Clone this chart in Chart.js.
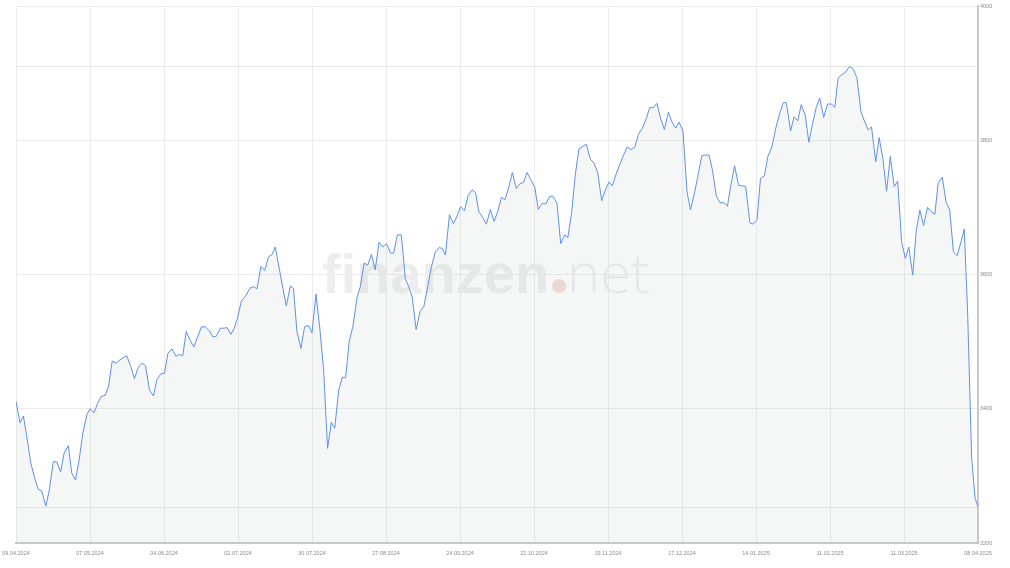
<!DOCTYPE html>
<html>
<head>
<meta charset="utf-8">
<script src="https://cdn.jsdelivr.net/npm/chart.js@4"></script>
<style>
  html, body { margin: 0; padding: 0; background: #ffffff; }
  #wrap { width: 1010px; height: 568px; }
</style>
</head>
<body>
<div id="wrap"><canvas id="chart" width="1010" height="568"></canvas></div>
<script>
// days after 09.04.2024
const days = [0,1.5,2.8,4.1,5.6,7.2,8.4,9.7,11.3,12.6,14.1,15.4,16.9,18.2,19.8,21.1,22.5,23.9,25.3,26.8,28.0,29.5,30.9,32.2,33.7,35.0,36.4,37.9,39.4,41.9,43.4,44.8,46.3,47.7,49.0,50.5,52.0,53.3,54.8,56.2,57.5,59.0,60.5,61.7,63.1,64.4,65.9,67.3,68.7,70.2,71.6,73.2,
  74.5,75.8,77.3,78.8,79.8,81.3,82.6,83.8,85.3,86.9,88.4,89.7,91.2,92.7,94.1,95.5,96.9,98.1,99.7,101.0,102.3,103.8,105.0,106.3,107.8,109.2,110.7,112.0,113.5,114.9,116.4,117.9,119.3,120.6,122.1,123.5,124.7,126.1,127.5,129.1,130.3,131.7,133.1,134.5,135.9,137.4,138.8,140.2,141.7,142.9,144.3,145.8,
  147.3,148.6,149.9,151.4,152.9,154.3,155.8,157.2,158.7,160.0,161.3,162.5,164.0,165.5,166.8,168.2,169.7,171.1,172.6,173.9,175.1,176.6,178.0,179.5,180.9,182.3,183.7,185.0,186.5,187.8,189.3,190.6,192.0,193.4,194.8,196.3,197.6,199.1,200.4,201.9,203.1,204.7,206.1,207.6,208.8,210.2,211.7,213.0,214.5,215.8,217.3,218.7,220.1,
  221.6,222.8,224.4,225.6,227.2,228.7,229.9,231.3,232.7,234.2,235.5,237.0,238.3,239.8,241.0,242.5,243.9,245.3,246.9,248.1,249.6,250.9,252.4,253.9,255.2,256.7,258.0,259.5,260.7,262.2,263.5,265.0,266.4,267.8,269.2,270.6,271.9,273.4,274.9,276.1,277.7,278.9,280.4,281.7,283.2,284.5,286.0,287.5,288.8,290.3,291.5,293.1,294.4,295.8,297.1,298.6,
  300.0,301.4,302.8,304.1,305.6,307.1,308.6,309.8,311.1,312.6,314.0,315.4,316.8,318.2,319.7,320.9,322.5,323.7,325.3,326.6,328.0,329.4,330.8,332.3,333.6,335.1,336.5,337.8,339.3,340.6,342.0,343.4,344.9,346.2,347.7,348.9,350.5,351.9,353.3,354.7,356.1,357.6,358.8,360.1,361.6,362.9,364];

const values = [3411,3379,3389,3358,3319,3295,3280,3278,3255,3279,3321,3321,3306,3334,3345,3304,3294,3324,3364,3391,3400,3394,3408,3418,3420,3433,3471,3468,3473,3479,3463,3445,3462,3468,3464,3428,3419,3443,3452,3453,3483,3489,3478,3481,3479,3515,3502,3492,3507,3522,3522,3516,
  3507,3508,3520,3520,3521,3511,3520,3535,3561,3568,3579,3582,3579,3612,3606,3626,3630,3641,3607,3579,3553,3583,3579,3515,3490,3522,3524,3513,3571,3522,3458,3341,3380,3371,3428,3447,3446,3501,3523,3567,3582,3617,3614,3630,3607,3648,3641,3646,3632,3632,3659,3659,
  3594,3582,3567,3518,3545,3552,3582,3612,3634,3640,3639,3629,3689,3676,3686,3701,3695,3718,3726,3722,3694,3685,3675,3697,3679,3694,3715,3711,3731,3752,3728,3735,3737,3752,3741,3730,3697,3706,3705,3716,3717,3706,3646,3659,3655,3691,3751,3787,3791,3794,3772,3766,3752,
  3710,3724,3738,3732,3751,3766,3778,3790,3786,3790,3809,3818,3830,3849,3848,3855,3833,3816,3842,3828,3818,3827,3813,3723,3696,3721,3746,3777,3778,3778,3756,3717,3707,3707,3702,3736,3762,3733,3732,3731,3677,3675,3682,3743,3747,3776,3790,3818,3838,3856,3856,3814,3835,3829,3853,3838,
  3797,3825,3849,3863,3834,3854,3854,3849,3893,3898,3902,3910,3906,3893,3843,3830,3815,3820,3768,3804,3773,3724,3776,3731,3739,3649,3624,3641,3599,3664,3696,3673,3700,3694,3690,3736,3745,3708,3696,3634,3628,3649,3668,3540,3326,3267,3254];

// x tick positions (days) and y ticks
const xTickDays = [0,28,56,84,112,140,168,196,224,252,280,308,336,364];
const yTicks = [3200,3400,3600,3800,4000];
const startDate = Date.UTC(2024, 3, 9);

function fmtDate(d) {
    const dt = new Date(startDate + Math.round(d) * 86400000);
    const dd = String(dt.getUTCDate()).padStart(2, '0');
    const mm = String(dt.getUTCMonth() + 1).padStart(2, '0');
    return dd + '.' + mm + '.' + dt.getUTCFullYear();
}

const points = days.map((d, i) => ({ x: d, y: values[i] }));

// watermark + max/min lines
const extras = {
    id: 'extras',
    beforeDatasetsDraw(chart) {
        const { ctx, chartArea, scales } = chart;
        ctx.save();
        // max / min lines
        ctx.strokeStyle = '#e6e6e6';
        ctx.lineWidth = 1;
        [Math.max(...values), Math.min(...values)].forEach(v => {
            const y = Math.round(scales.y.getPixelForValue(v)) + 0.5;
            ctx.beginPath();
            ctx.moveTo(chartArea.left, y);
            ctx.lineTo(chartArea.right, y);
            ctx.stroke();
        });
        // finanzen.net watermark
        ctx.textBaseline = 'alphabetic';
        ctx.font = 'bold 56px "Liberation Sans", Arial, sans-serif';
        let x = 322;
        const base = 293;
        ctx.fillStyle = '#ededed';
        ctx.fillText('finanzen', x, base);
        x += ctx.measureText('finanzen').width + 4;
        ctx.fillStyle = '#f6dada';
        ctx.beginPath();
        ctx.arc(x + 6, base - 7, 7, 0, Math.PI * 2);
        ctx.fill();
        x += 14;
        ctx.font = '300 56px "Open Sans", "Liberation Sans", sans-serif';
        ctx.fillStyle = '#ededed';
        ctx.fillText('net', x, base);
        ctx.restore();
    }
};

new Chart(document.getElementById('chart'), {
    type: 'line',
    data: {
        datasets: [{
            data: points,
            borderColor: '#5c8ff0',
            borderWidth: 1,
            backgroundColor: 'rgba(190, 205, 205, 0.16)',
            fill: 'start',
            pointRadius: 0,
            tension: 0
        }]
    },
    options: {
        responsive: false,
        animation: false,
        layout: { padding: { left: 16, top: 6, right: 0, bottom: 0 } },
        plugins: {
            legend: { display: false },
            tooltip: { enabled: false }
        },
        scales: {
            x: {
                type: 'linear',
                min: 0,
                max: 364,
                afterBuildTicks: axis => { axis.ticks = xTickDays.map(v => ({ value: v })); },
                afterFit: axis => {
                    axis.height = 25;
                    // labels may overhang the edges like in the original
                    axis.paddingLeft = 0;
                    axis.paddingRight = 0;
                },
                ticks: {
                    callback: v => fmtDate(v),
                    color: '#8a8a8a',
                    font: { family: 'Arial, "Liberation Sans"', size: 5.5 },
                    padding: 7,
                    maxRotation: 0,
                    autoSkip: false
                },
                grid: { color: '#ebebeb', drawTicks: false },
                border: { color: '#c8c8c8', width: 2 }
            },
            y: {
                position: 'right',
                min: 3200,
                max: 4000,
                afterBuildTicks: axis => { axis.ticks = yTicks.map(v => ({ value: v })); },
                afterFit: axis => {
                    axis.width = 32;
                    axis.paddingTop = 0;
                    axis.paddingBottom = 0;
                },
                ticks: {
                    callback: v => String(v),
                    color: '#8a8a8a',
                    font: { family: 'Arial, "Liberation Sans"', size: 5.5 },
                    padding: 2
                },
                grid: { color: '#ebebeb', drawTicks: false },
                border: { color: '#c8c8c8', width: 2 }
            }
        }
    },
    plugins: [extras]
});
</script>
</body>
</html>
